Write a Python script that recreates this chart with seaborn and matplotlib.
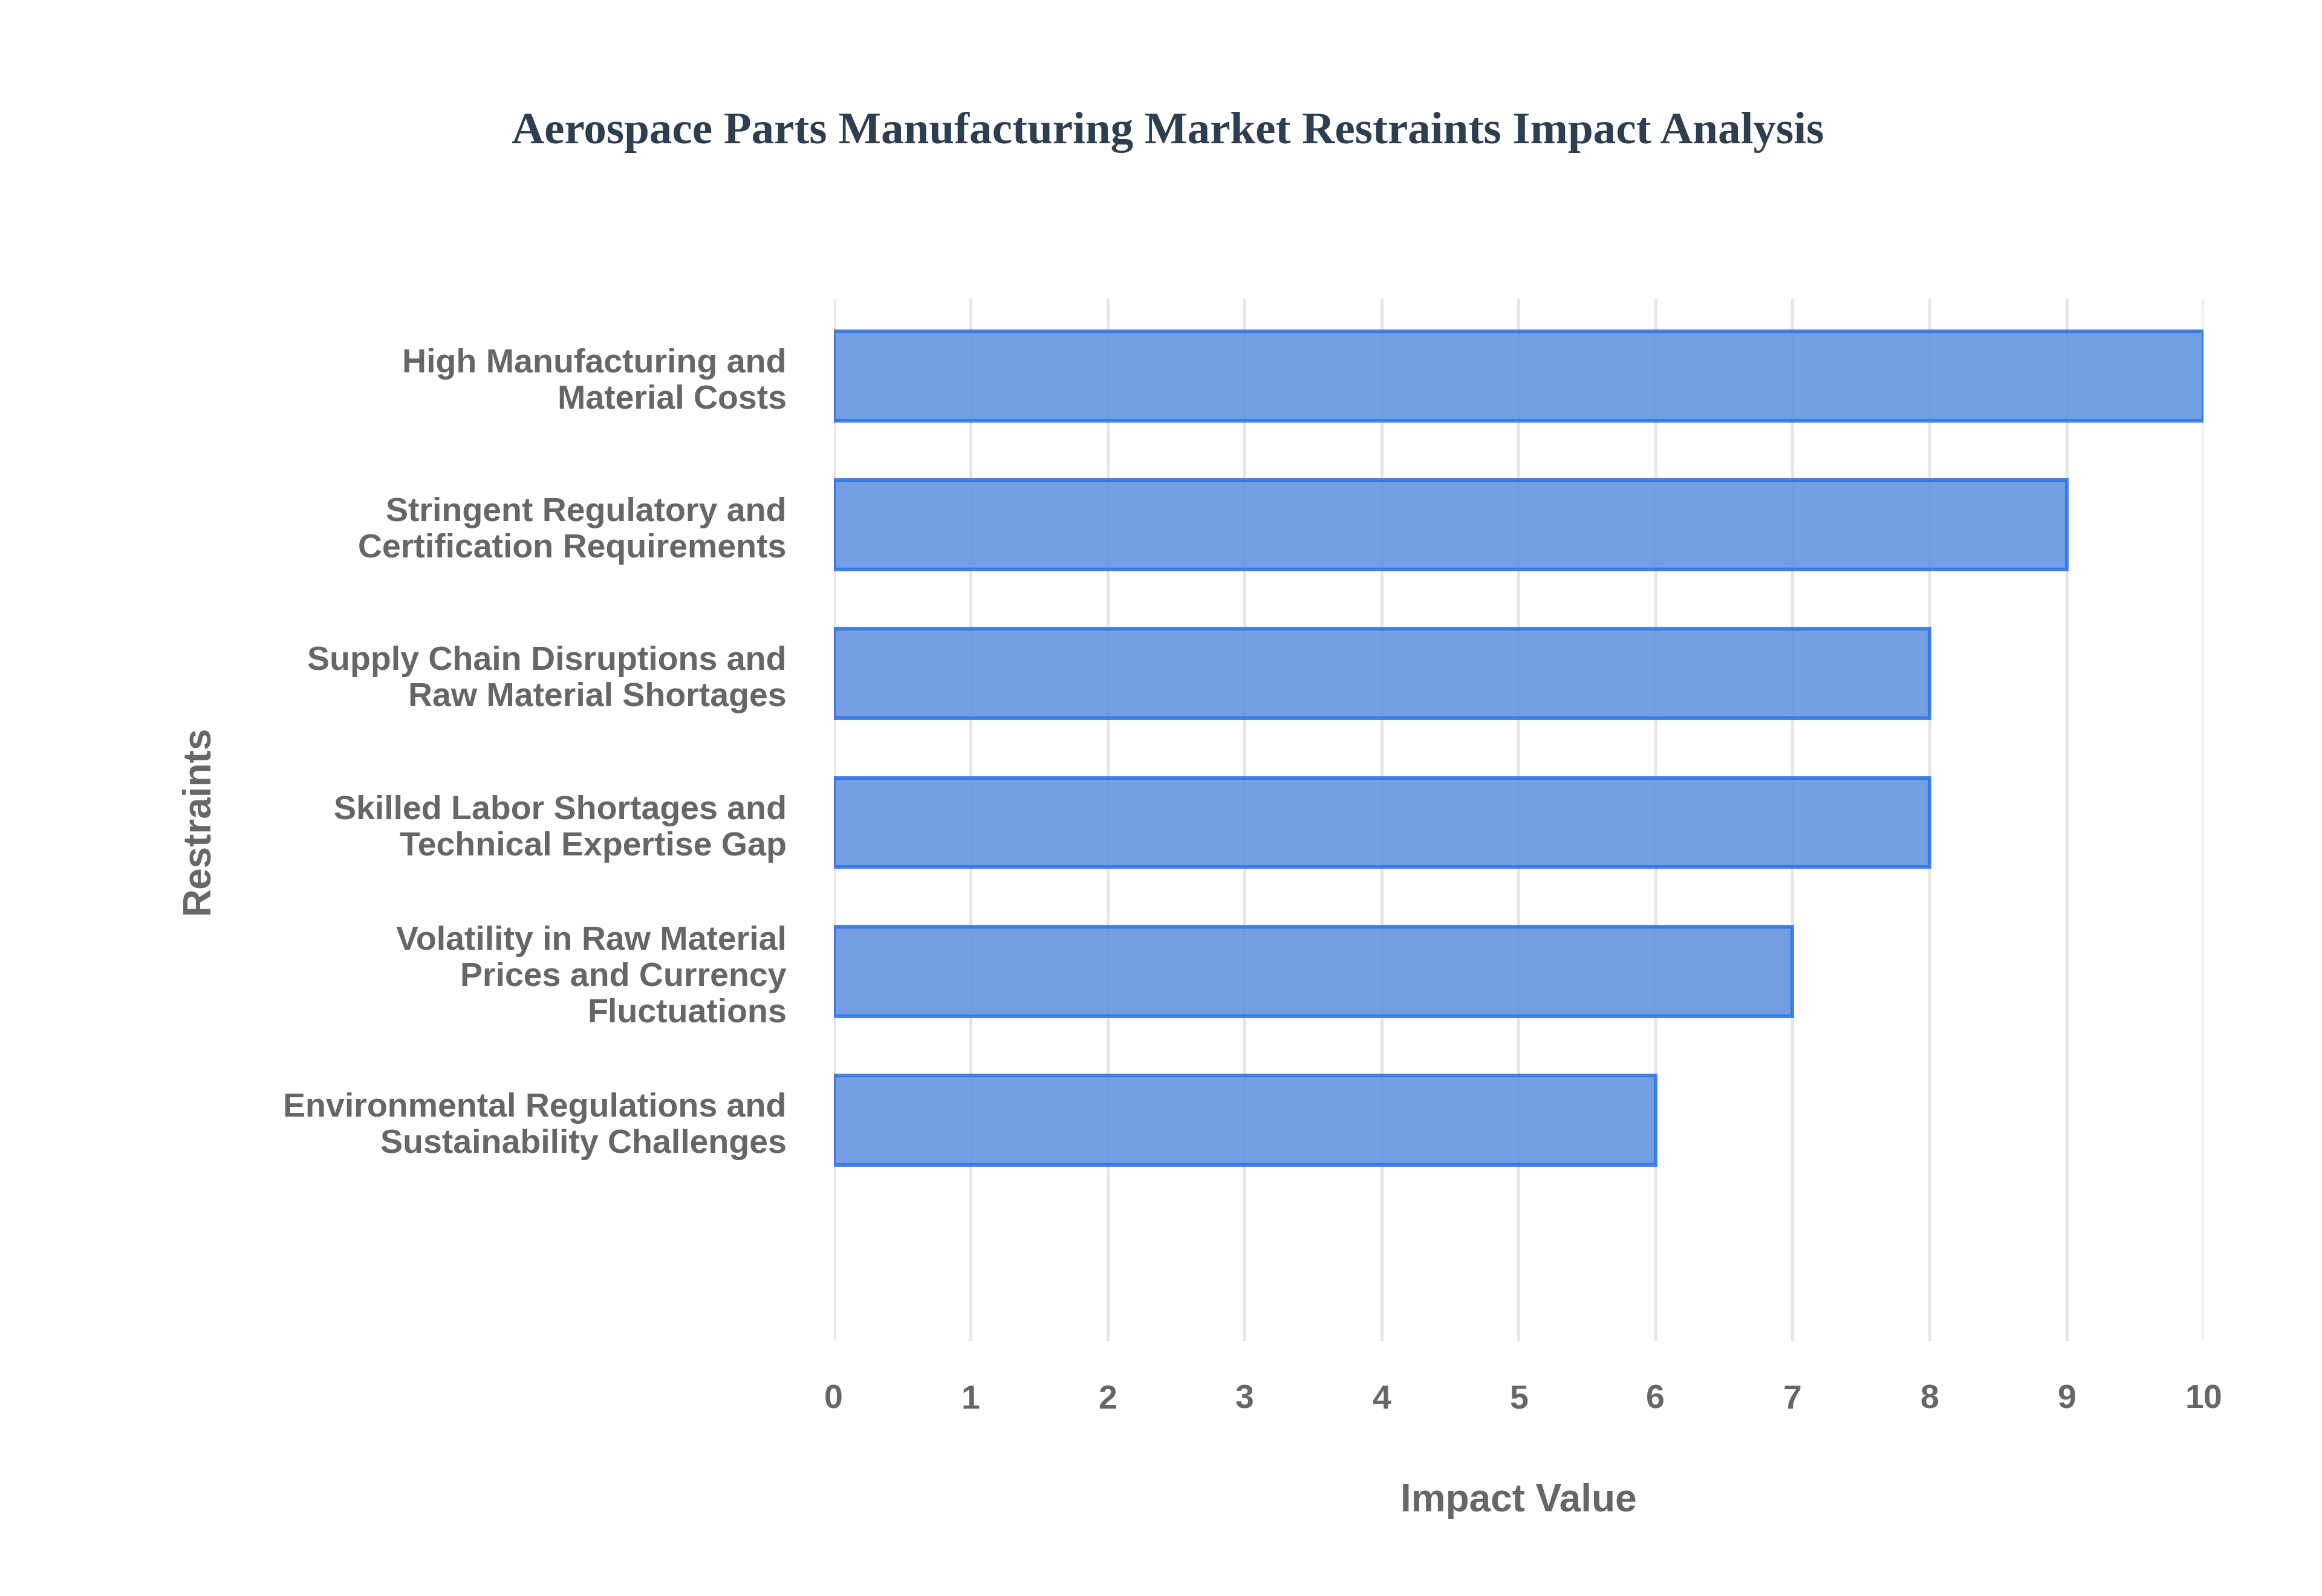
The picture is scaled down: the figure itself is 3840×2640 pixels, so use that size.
import matplotlib
matplotlib.use("Agg")
import matplotlib.pyplot as plt
import seaborn as sns
import pandas as pd

categories = [
    "High Manufacturing and\nMaterial Costs",
    "Stringent Regulatory and\nCertification Requirements",
    "Supply Chain Disruptions and\nRaw Material Shortages",
    "Skilled Labor Shortages and\nTechnical Expertise Gap",
    "Volatility in Raw Material\nPrices and Currency\nFluctuations",
    "Environmental Regulations and\nSustainability Challenges",
]
impact = [10, 9, 8, 8, 7, 6]
xticks = list(range(0, 11))

df = pd.DataFrame({"Restraint": categories, "Impact": impact})

sns.set_theme(style="white")
plt.rcParams['font.family'] = ['Liberation Sans', 'DejaVu Sans']

fig = plt.figure(figsize=(19.2, 13.2), dpi=200)
ax = fig.add_axes([0.359, 0.16, 0.59, 0.653])
sns.barplot(data=df, y="Restraint", x="Impact", orient="h", ax=ax,
            color="#4e8cf5", alpha=0.88, edgecolor="#2f74e6", linewidth=2.2,
            width=0.6)
ax.set_ylim(6.48, -0.52)
ax.set_xlim(0, 10)
ax.set_xticks(xticks)
ax.grid(axis="x", color="#e6e6e6", linewidth=1.8)
ax.set_axisbelow(True)
for s in ax.spines.values():
    s.set_visible(False)
ax.axvline(0, color="#e6e6e6", linewidth=1.8, zorder=0)
ax.tick_params(axis="x", length=0, pad=26, labelsize=20, labelcolor="#666666")
ax.tick_params(axis="y", length=0, pad=28, labelsize=20, labelcolor="#666666")
for lbl in ax.get_xticklabels() + ax.get_yticklabels():
    lbl.set_fontweight("bold")
ax.set_xlabel("Impact Value", fontsize=23, fontweight="bold", color="#666666", labelpad=40)
ax.set_ylabel("Restraints", fontsize=23, fontweight="bold", color="#666666", labelpad=40)
fig.suptitle("Aerospace Parts Manufacturing Market Restraints Impact Analysis",
             x=0.503, y=0.93, fontsize=27, fontweight="bold", color="#2c3e50",
             family=["Liberation Serif", "DejaVu Serif"])
fig.savefig("out.png", dpi=200, facecolor="white")
